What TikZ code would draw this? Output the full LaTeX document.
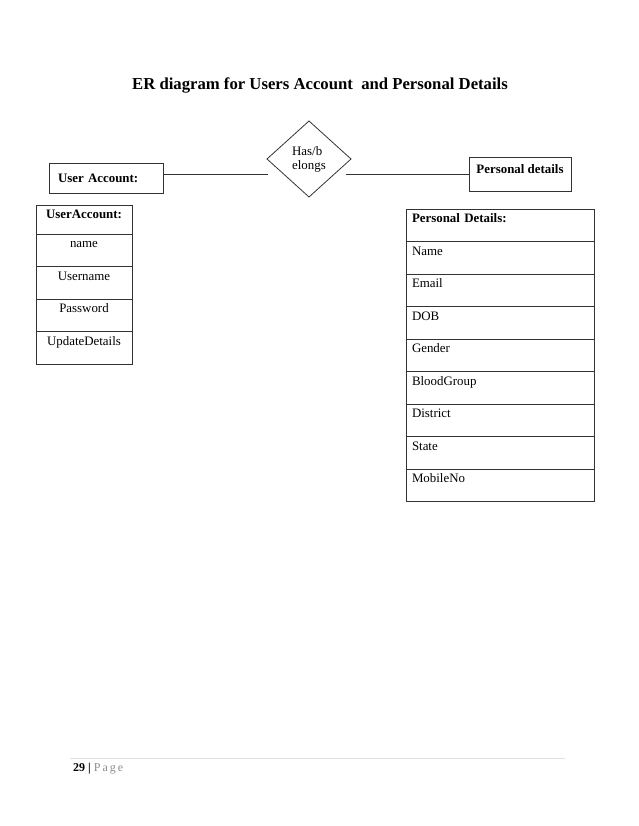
\documentclass[tikz,border=0pt]{standalone}
\usepackage{fontspec}
\setmainfont{Liberation Serif}
\usetikzlibrary{shapes.geometric,% diamond for the relation
positioning}%                    rows stacked below each other
\tikzset{every node/.style={font=\fontsize{12.9}{14}\selectfont}}
\tikzset{
  box/.style={draw=black!80, line width=0.8pt, inner sep=0pt, outer sep=0pt},
  uarow/.style={box, minimum width=96pt, text height=10.5pt, text depth=16pt, inner ysep=3pt},
  pdrow/.style={box, text width=176pt, inner xsep=6pt, align=left,
    text height=10.5pt, text depth=16pt, inner ysep=3pt},
  entity/.style={box, font=\bfseries\fontsize{12.9}{14}\selectfont},
  relation/.style={box, shape=diamond, minimum width=84pt, minimum height=76pt, align=left}
}

\begin{document}
\begin{tikzpicture}[x=1pt,y=-1pt]
  \useasboundingbox (0,0) rectangle (638,826);
  \node[font=\bfseries\fontsize{16.7}{19}\selectfont] (title) at (320,85)
    {ER diagram for Users Account \ and Personal Details};
  % entities and relation
  \node[entity, minimum height=30pt, text width=96pt, inner xsep=9pt, align=left]
    (uabox) at (106,178) {User Account:};
  \node[entity, minimum width=102pt, minimum height=34pt, text height=9pt, text depth=10pt]
    (pdbox) at (520,174) {Personal details};
  \node[relation] (rel) at (309,159) {Has/b\\elongs};
  \coordinate (la) at (268,174);
  \coordinate (ra) at (346,174);
  \draw[line width=0.8pt, black!80] (la -| uabox.east) -- (la);
  \draw[line width=0.8pt, black!80] (ra) -- (ra -| pdbox.west);
  % attribute tables
  \node[uarow, text depth=12.5pt, font=\bfseries\fontsize{12.9}{14}\selectfont,
    anchor=north] (ua0) at (84,205) {UserAccount:};
  \foreach \txt [count=\i] in {name,Username,Password,UpdateDetails} {
    \pgfmathtruncatemacro\j{\i-1}
    \node[uarow, below=0pt of ua\j] (ua\i) {\txt};
  }
  \node[pdrow, font=\bfseries\fontsize{12.9}{14}\selectfont,
    anchor=north] (pd0) at (500,209) {Personal Details:};
  \foreach \txt [count=\i] in {Name,Email,DOB,Gender,BloodGroup,District,State,MobileNo} {
    \pgfmathtruncatemacro\j{\i-1}
    \node[pdrow, below=0pt of pd\j] (pd\i) {\txt};
  }
  % page footer
  \draw[black!12, line width=0.8pt] (70,758) -- (565,758);
  \node[anchor=base west, inner sep=0pt, font=\fontsize{12}{14}\selectfont] (page) at (73,771)
    {\textbf{29 |} \textcolor{black!45}{P\,a\,g\,e}};
\end{tikzpicture}
\end{document}
